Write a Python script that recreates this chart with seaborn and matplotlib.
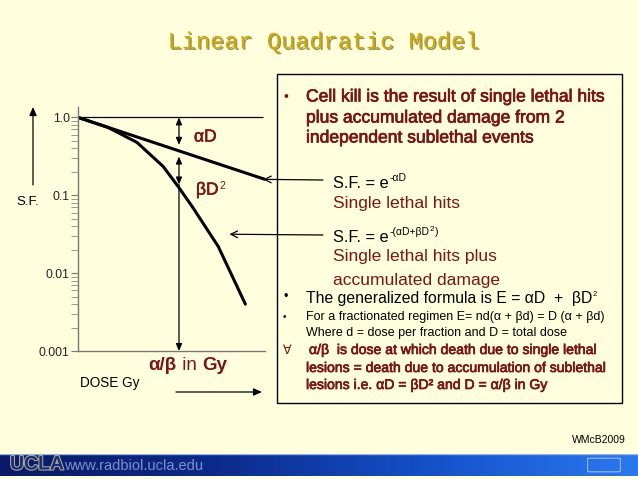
import numpy as np
import pandas as pd
import matplotlib
matplotlib.use("Agg")
import matplotlib.pyplot as plt
import matplotlib.patheffects as pe
from matplotlib.patches import Rectangle, FancyBboxPatch, FancyArrowPatch
from matplotlib.colors import LinearSegmentedColormap
import seaborn as sns

# ---------------- data ----------------
lq_dose = [0.0, 1.6, 3.15, 4.55, 5.35, 6.1, 7.5, 8.95]
lq_sf = [1.0, 0.744, 0.478, 0.235, 0.130, 0.072, 0.022, 0.0040]
lin_dose = [0.0, 10.0]
lin_sf = [1.0, 0.16]
y_ticks = [1.0, 0.1, 0.01, 0.001]
y_tick_labels = ["1.0", "0.1", "0.01", "0.001"]
alpha_beta_dose = 5.4
lin_at_ab = 0.37
lq_at_ab = 0.125

df = pd.concat([
    pd.DataFrame({"dose": lq_dose, "sf": lq_sf, "model": "LQ"}),
    pd.DataFrame({"dose": lin_dose, "sf": lin_sf, "model": "linear"}),
])

BG = "#FFFFDE"
DARKRED = "#7A1515"
W, H = 638, 479

sns.set_theme(style="ticks")
plt.rcParams["font.family"] = ["Liberation Sans", "DejaVu Sans"]

fig = plt.figure(figsize=(W / 100, H / 100), dpi=100)
fig.patch.set_facecolor(BG)
renderer = fig.canvas.get_renderer()


def fx(x):
    return x / W


def fy(y):
    return 1 - y / H


def T(x, y, s, size=10, color="black", ha="left", va="center", **kw):
    return fig.text(fx(x), fy(y), s, fontsize=size, color=color, ha=ha, va=va, **kw)


def seq(x, y, pieces):
    """Place text pieces one after another: (text, size, dy, kwargs)."""
    cur = x
    for s, size, dy, kw in pieces:
        t = T(cur, y + dy, s, size=size, **kw)
        bb = t.get_window_extent(renderer=renderer)
        cur = bb.x1 + 0.5


def fig_arrow(x0, y0, x1, y1):
    fig.patches.append(FancyArrowPatch(
        (fx(x0), fy(y0)), (fx(x1), fy(y1)), transform=fig.transFigure,
        arrowstyle="-|>,head_length=0.5,head_width=0.22", mutation_scale=10,
        color="black", lw=0.9, shrinkA=0, shrinkB=0))


# ---------------- main axes ----------------
ax_left, ax_right, ax_top, ax_bot = 78, 265, 107, 351
ax = fig.add_axes([fx(ax_left), fy(ax_bot), (ax_right - ax_left) / W, (ax_bot - ax_top) / H])
ax.set_facecolor(BG)
sns.lineplot(data=df, x="dose", y="sf", hue="model", palette=["black", "black"],
             estimator=None, sort=False, legend=False, lw=2.2, ax=ax)
ax.set_yscale("log")
ax.set_ylim(0.001, 1.36)
ax.set_xlim(0, 10)
ax.set_xlabel("")
ax.set_ylabel("")
ax.set_xticks([])
ax.set_yticks(y_ticks)
ax.set_yticklabels(y_tick_labels)
ax.tick_params(axis="y", which="major", length=5, width=0.8, color="#777777",
               labelsize=8.8, labelcolor="#222222", pad=1)
ax.tick_params(axis="y", which="minor", length=5, width=0.6, color="#888888")
for s in ["top", "right"]:
    ax.spines[s].set_visible(False)
for s in ["left", "bottom"]:
    ax.spines[s].set_color("#777777")
    ax.spines[s].set_linewidth(1.0)

# horizontal reference at 1.0
ax.hlines(1.0, 0, 9.9, color="black", lw=0.9, clip_on=False)

# vertical arrows at alpha/beta
ap = dict(arrowstyle="<|-|>,head_length=0.35,head_width=0.15", color="black", lw=0.9,
          shrinkA=0, shrinkB=0)
ax.annotate("", xy=(alpha_beta_dose, 1.0), xytext=(alpha_beta_dose, lin_at_ab * 1.2),
            arrowprops=ap)
ax.annotate("", xy=(alpha_beta_dose, lin_at_ab * 0.85), xytext=(alpha_beta_dose, lq_at_ab * 1.1),
            arrowprops=ap)
ax.annotate("", xy=(alpha_beta_dose, 0.001), xytext=(alpha_beta_dose, lq_at_ab * 1.1),
            arrowprops=dict(arrowstyle="-|>,head_length=0.35,head_width=0.15", color="black",
                            lw=0.9, shrinkA=0, shrinkB=0), annotation_clip=False)

# right arrows pointing to curves
ax.annotate("", xy=(lin_dose[-1] - 0.1, lin_sf[-1]), xytext=(323, H - 180),
            textcoords="figure pixels",
            arrowprops=dict(arrowstyle="->,head_length=0.4,head_width=0.2", color="black", lw=0.9,
                            shrinkA=0, shrinkB=0), annotation_clip=False)
ax.annotate("", xy=(8.1, 0.0316), xytext=(323, H - 235), textcoords="figure pixels",
            arrowprops=dict(arrowstyle="->,head_length=0.4,head_width=0.2", color="black", lw=0.9,
                            shrinkA=0, shrinkB=0), annotation_clip=False)

# ---------------- chart texts ----------------
red_bold = [pe.Stroke(linewidth=0.4, foreground=DARKRED), pe.Normal()]
T(194, 137, "αD", size=12.5, color=DARKRED, path_effects=red_bold)
seq(196, 190, [("βD", 12.5, 0, dict(color=DARKRED, path_effects=red_bold)),
               ("2", 7.5, -4, dict(color=DARKRED))])
seq(148, 366, [("α/β", 13.5, 0, dict(color=DARKRED, fontweight="bold")),
               (" in ", 13.5, 0, dict(color=DARKRED)),
               ("Gy", 13.5, 0, dict(color=DARKRED, fontweight="bold"))])
T(16, 202, "S.F.", size=9.5)
T(80, 383, "DOSE Gy", size=9.8)
fig_arrow(33, 185, 33, 107)
fig_arrow(176, 392, 262, 392)

# ---------------- title ----------------
T(323, 42, "Linear Quadratic Model", size=17, color="#CDAA08", ha="center",
  family=["Liberation Mono", "DejaVu Sans Mono"],
  path_effects=[pe.withSimplePatchShadow(offset=(1, -1), shadow_rgbFace="#5a4a00", alpha=0.6)])

# ---------------- text box ----------------
fig.patches.append(Rectangle((fx(277), fy(403)), (622 - 277) / W, (403 - 74) / H,
                             transform=fig.transFigure, fill=False, edgecolor="black", lw=1.0))

bold_eff = [pe.Stroke(linewidth=0.5, foreground=DARKRED), pe.Normal()]
T(283, 97, "•", size=10, color=DARKRED)
T(306, 97, "Cell kill is the result of single lethal hits", size=12.6, color=DARKRED, path_effects=bold_eff)
T(306, 118, "plus accumulated damage from 2", size=12.6, color=DARKRED, path_effects=bold_eff)
T(306, 138, "independent sublethal events", size=12.6, color=DARKRED, path_effects=bold_eff)

seq(333, 183, [("S.F. = e", 11.8, 0, {}), ("-αD", 7.5, -5, {})])
T(333, 204, "Single lethal hits", size=12.6, color=DARKRED)
seq(333, 237, [("S.F. = e", 11.8, 0, {}), ("-(αD+βD", 7.5, -5, {}), ("2", 6, -7, {}),
               (")", 7.5, -5, {})])
T(333, 257, "Single lethal hits plus", size=12.6, color=DARKRED)
T(333, 280, "accumulated damage", size=12.6, color=DARKRED)

T(283, 297, "•", size=9)
seq(306, 298, [("The generalized formula is E = αD  +  βD", 11.3, 0, {}), ("2", 5.5, -4, {})])
T(283, 317, "•", size=7)
T(306, 317, "For a fractionated regimen E= nd(α + βd) = D (α + βd)", size=9.0)
T(306, 333, "Where d = dose per fraction and D = total dose", size=9.0)
T(283, 350, "∀", size=9, color=DARKRED, family=["DejaVu Sans"])
T(309, 350, "α/β  is dose at which death due to single lethal", size=10.1, color=DARKRED, path_effects=bold_eff)
T(306, 368, "lesions = death due to accumulation of sublethal", size=10.1, color=DARKRED, path_effects=bold_eff)
T(306, 385, "lesions i.e. αD = βD² and D = α/β in Gy", size=10.1, color=DARKRED, path_effects=bold_eff)

T(626, 440, "WMcB2009", size=7.5, ha="right")

# ---------------- footer band ----------------
band = fig.add_axes([0, fy(476), 1, (476 - 454) / H])
cmap = LinearSegmentedColormap.from_list("band", ["#0a1a66", "#0c2a8a", "#1450c8", "#2a78f0"])
band.imshow(np.linspace(0, 1, 256)[None, :], aspect="auto", cmap=cmap, extent=[0, 1, 0, 1])
band.set_xlim(0, 1)
band.set_ylim(0, 1)
band.axis("off")
band.axhline(0.98, color="#8fb0e8", lw=1)
band.add_patch(FancyBboxPatch((594 / W, 0.2), 20 / W, 0.6, boxstyle="round,pad=0.01,rounding_size=0.01",
                              fill=False, edgecolor="#9fb8f0", lw=0.8, transform=band.transAxes))
T(10, 465, "UCLA", size=14, color="#1a2a7a", fontweight="bold",
  path_effects=[pe.Stroke(linewidth=1.5, foreground="#b0b090"), pe.Normal()])
T(64, 466, "www.radbiol.ucla.edu", size=10.5, color="#7f8fc8")

fig.savefig("out.png", dpi=100, facecolor=BG)
